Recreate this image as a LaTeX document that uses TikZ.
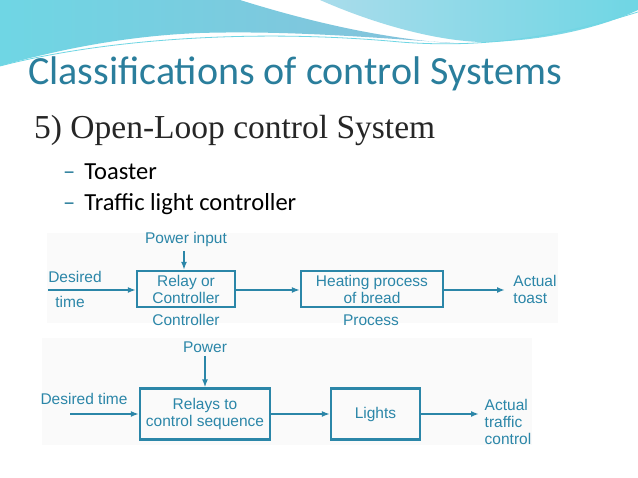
\documentclass[tikz,border=0pt]{standalone}
\usepackage{fontspec}
\setmainfont{Carlito}
\newfontfamily\serifx{Liberation Serif}
\newfontfamily\sansx{Liberation Sans}
\usetikzlibrary{arrows.meta}
\definecolor{teal1}{HTML}{2A7E9C}
\definecolor{diag}{HTML}{2B86A8}
\definecolor{wa}{HTML}{86C0DA}
\definecolor{wb}{HTML}{6FD6E4}
\definecolor{wc}{HTML}{A9DCEB}
\begin{document}
\begin{tikzpicture}[x=1pt,y=-1pt,
  blk/.style={draw=diag,line width=2.3pt,inner sep=0pt},
  lab/.style={text=diag,font=\sansx\fontsize{15.5}{17}\selectfont,align=center,inner sep=0pt},
  lab2/.style={text=diag,font=\sansx\fontsize{15.5}{17}\selectfont,align=center,inner sep=0pt},
  arr/.style={draw=diag,line width=1.6pt,-{Latex[length=8pt,width=6pt]}}]
\useasboundingbox (0,0) rectangle (638,478);
\fill[white] (0,0) rectangle (638,478);
% header waves
\shade[left color=wb,right color=wa] (0,0) -- (240,0) .. controls (320,25) and (400,42) .. (470,44) .. controls (400,40) and (300,30) .. (200,33) .. controls (120,36) and (50,52) .. (0,66) -- cycle;
\shade[left color=wc,right color=wb] (320,0) -- (638,0) -- (638,10) .. controls (600,28) and (540,42) .. (480,42) .. controls (430,40) and (370,22) .. cycle;
\draw[wb,line width=0.8pt] (0,66) .. controls (100,40) and (250,28) .. (400,42) .. controls (500,50) and (580,30) .. (638,12);
% title and text
\node[anchor=base west,text=teal1,font=\fontsize{40}{44}\selectfont,inner sep=0pt] (title) at (28,85) {Classifications of control Systems};
\node[anchor=base west,text=black!85,font=\serifx\fontsize{33.5}{36}\selectfont,inner sep=0pt] (sub) at (34,139) {5) Open-Loop control System};
\node[anchor=base west,font=\fontsize{24.5}{28}\selectfont,inner sep=0pt] (b1) at (63,180) {\textcolor{teal1}{--}\hspace{9pt}Toaster};
\node[anchor=base west,font=\fontsize{24.5}{28}\selectfont,inner sep=0pt] (b2) at (63,211) {\textcolor{teal1}{--}\hspace{9pt}Traffic light controller};
% diagram 1
\fill[black!2] (47,233) rectangle (558,323);
\node[blk,minimum width=98pt,minimum height=36pt] (r1) at (186,289) {};
\node[lab2] at (r1) {Relay or\\Controller};
\node[blk,minimum width=142pt,minimum height=36pt] (h1) at (372,289) {};
\node[lab2] at (h1) {Heating process\\of bread};
\node[lab] (pw1) at (186,239) {Power input};
\coordinate (pe1) at (184,251);
\coordinate (din1) at (48,290);
\coordinate (out1) at (505,290);
\node[lab] (des) at (75,277) {Desired};
\node[lab] (tim) at (70,302) {time};
\node[lab2,align=left] (act1) at (535,289) {Actual\\toast};
\node[lab] (cl) at (186,320) {Controller};
\node[lab] (pl) at (371,320) {Process};
\draw[arr] (pe1) -- (pe1|-r1.north);
\draw[arr] (din1) -- (din1-|r1.west);
\draw[arr] (r1.east|-din1) -- (h1.west|-din1);
\draw[arr] (h1.east|-din1) -- (out1);
% diagram 2
\fill[black!2] (42,338) rectangle (532,445);
\node[blk,minimum width=130pt,minimum height=51pt] (r2) at (205,414) {};
\node[lab2] at (r2) {Relays to\\control sequence};
\node[blk,minimum width=89pt,minimum height=51pt] (l2) at (375.5,414) {};
\node[lab2] at (l2) {Lights};
\node[lab2] (pw2) at (205,347) {Power};
\coordinate (pe2) at (205,356);
\node[lab2] (dt2) at (84,399) {Desired time};
\coordinate (din2) at (70,414);
\coordinate (out2) at (479,414);
\node[lab2,align=left] (act2) at (508,422) {Actual\\traffic\\control};
\draw[arr] (pe2) -- (r2.north);
\draw[arr] (din2) -- (r2.west);
\draw[arr] (r2.east) -- (l2.west);
\draw[arr] (l2.east) -- (out2);
\end{tikzpicture}
\end{document}
